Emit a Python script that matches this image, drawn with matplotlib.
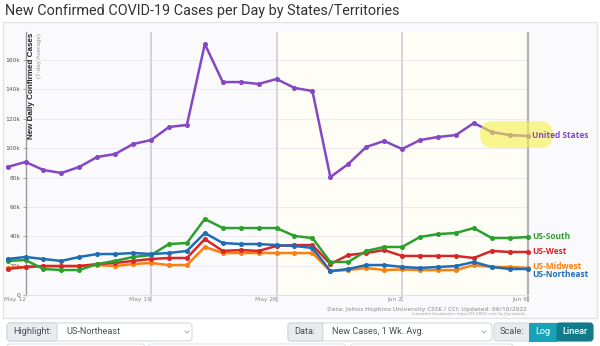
import matplotlib.pyplot as plt
import matplotlib.dates as mdates
from matplotlib.patches import FancyBboxPatch, Rectangle
import pandas as pd

dates = pd.date_range('2022-05-11', '2022-06-09', freq='D')

# new confirmed cases per day, 7-day average, in thousands
us = [87.2, 90.6, 85.1, 83.1, 87.2, 94.0, 96.0, 102.8, 105.5, 114.4,
      115.8, 170.9, 145.0, 145.0, 143.7, 147.1, 141.0, 138.9, 80.3, 89.2,
      100.8, 104.9, 99.4, 105.5, 107.6, 108.9, 117.1, 111.0, 108.9, 108.3]
south = [23.2, 23.8, 17.7, 17.0, 17.0, 21.1, 23.2, 25.9, 27.2, 34.7,
         35.4, 51.8, 45.6, 45.6, 45.6, 45.6, 40.2, 38.8, 22.5, 22.5,
         30.0, 32.7, 32.7, 39.5, 41.5, 42.2, 45.6, 38.8, 38.8, 39.5]
west = [17.7, 19.1, 19.7, 19.7, 19.7, 21.1, 21.8, 23.2, 24.5, 25.2,
        25.2, 38.1, 30.0, 30.6, 30.0, 33.4, 34.0, 34.0, 21.1, 27.2,
        28.6, 30.6, 26.6, 26.6, 26.6, 26.6, 25.2, 30.0, 29.3, 29.3]
midwest = [18.4, 19.1, 19.7, 19.7, 19.7, 20.4, 19.7, 21.1, 21.8, 20.4,
           20.4, 32.7, 28.6, 28.6, 28.6, 28.6, 28.6, 28.6, 16.3, 17.0,
           18.4, 17.0, 17.4, 17.0, 17.0, 17.0, 20.4, 19.1, 19.1, 18.4]
northeast = [24.5, 25.9, 24.5, 23.2, 25.9, 27.9, 27.9, 28.6, 27.9, 28.6,
             30.0, 42.2, 35.4, 34.7, 34.7, 34.0, 33.4, 32.0, 16.3, 17.7,
             20.4, 20.4, 19.1, 18.4, 19.1, 19.7, 22.5, 19.1, 17.7, 17.7]

week_ticks = pd.to_datetime(['2022-05-12', '2022-05-19', '2022-05-26',
                             '2022-06-02', '2022-06-09'])
week_labels = ['May 12', 'May 19', 'May 26', 'Jun 2', 'Jun 9']
y_ticks = [0, 20, 40, 60, 80, 100, 120, 140, 160]
y_labels = ['0'] + [f'{v}k' for v in y_ticks[1:]]

series = [
    ('US-Midwest', midwest, '#ff7f0e'),
    ('US-West', west, '#d62728'),
    ('US-South', south, '#2ca02c'),
    ('US-Northeast', northeast, '#1f6db5'),
    ('United States', us, '#8547c4'),
]

W, H = 600, 346
fig = plt.figure(figsize=(W / 100, H / 100), dpi=100)
fig.patch.set_facecolor('white')

# chart box: 3..597 px wide, 22..318 px from the top
ax = fig.add_axes([3 / W, (H - 318) / H, 594 / W, (318 - 22) / H])
ax.set_facecolor('#fafafd')

d0 = mdates.date2num(dates[0])
day_px = 17.93
ax.set_xlim(d0 + (3 - 7.6) / day_px, d0 + (597 - 7.6) / day_px)
ax.set_ylim(-15.66, 185.9)

may12 = week_ticks[0]
jun9 = week_ticks[-1]
ax.fill_between([week_ticks[2], jun9], 0, 179, color='#fefef7', zorder=0, lw=0)
ax.hlines(y_ticks[1:], may12, jun9, color='#ebebf1', lw=0.8, zorder=1)
ax.vlines(week_ticks[1:-1], -5, 179, color='#d2d2d6', lw=1.3, zorder=1)
ax.vlines(jun9, -5, 179, color='#b4b4b8', lw=1.6, zorder=1)

for name in ['top', 'right']:
    ax.spines[name].set_visible(False)
ax.spines['left'].set_position(('data', mdates.date2num(may12)))
ax.spines['left'].set_bounds(0, 179)
ax.spines['left'].set_color('#9a9a9a')
ax.spines['left'].set_linewidth(1.0)
ax.spines['bottom'].set_position(('data', 0))
ax.spines['bottom'].set_bounds(mdates.date2num(may12), mdates.date2num(jun9))
ax.spines['bottom'].set_color('#e4def0')
ax.spines['bottom'].set_linewidth(0.8)

ax.set_yticks(y_ticks, y_labels)
ax.tick_params(axis='y', length=2.5, width=0.6, color='#999999', pad=1,
               labelsize=4.3, labelcolor='#555555')
ax.set_xticks(week_ticks, week_labels)
ax.tick_params(axis='x', length=0, pad=1.2, labelsize=4.3, labelcolor='#8a8a8a')
for lab in ax.get_xticklabels():
    lab.set_ha('right')

for name, vals, color in series:
    ax.plot(dates, vals, color=color, lw=1.8, marker='o', ms=2.6,
            mec=color, mfc=color, zorder=3, solid_joinstyle='round')

# pixel-space overlay for the page title, frame and controls
ax_px = fig.add_axes([0, 0, 1, 1], zorder=5)
ax_px.set_xlim(0, W)
ax_px.set_ylim(H, 0)
ax_px.axis('off')
ax_px.patch.set_visible(False)

# yellow marker over the tail of the United States line
pill = FancyBboxPatch((480, 121), 73, 27, boxstyle='round,pad=0,rounding_size=13.5',
                      transform=ax_px.transData, facecolor='#f5f04a', alpha=0.6,
                      lw=0, zorder=4)
ax.add_patch(pill)

label_x = d0 + (532 - 7.6) / day_px
nudge = {'US-Midwest': 0.8, 'US-Northeast': -4.0}
for name, vals, color in series:
    ax.text(label_x, vals[-1] + nudge.get(name, 0), name, color=color,
            fontsize=6, fontweight='bold', family='Open Sans',
            ha='left', va='center', zorder=6)

# axis title
ax.text(d0 + (31.5 - 7.6) / day_px, 178.5, 'New Daily Confirmed Cases',
        rotation=90, ha='center', va='top', fontsize=5.8, fontweight='bold',
        family='Liberation Sans', color='#222222')
ax.text(d0 + (39 - 7.6) / day_px, 178.5, '(7-day Average)',
        rotation=90, ha='center', va='top', fontsize=4.6,
        family='Liberation Sans', color='#999999')

# source notes
ax_px.text(527, 309, 'Data: Johns Hopkins University CSSE / CCI; Updated: 06/10/2022',
           ha='right', va='center', fontsize=4.6, fontweight='bold',
           family='Open Sans', color='#b0b0b0')
ax_px.text(527, 314.5, 'Interactive Visualization: https://91-DIVOC.com/ by @profwade_',
           ha='right', va='center', fontsize=2.8, family='Open Sans', color='#9a9a9a')

# frame around the chart
ax_px.add_patch(Rectangle((3, 22), 594, 296, fill=False, ec='#e2e2e2', lw=0.9))

# page title
ax_px.text(5, 11.5, 'New Confirmed COVID-19 Cases per Day by States/Territories',
           ha='left', va='center', fontsize=10.4, family='Roboto', color='#333333')


# bottom controls
def box(x0, x1, fc, ec='#ced4da', r=3):
    ax_px.add_patch(FancyBboxPatch((x0, 323), x1 - x0, 18,
                                   boxstyle=f'round,pad=0,rounding_size={r}',
                                   fc=fc, ec=ec, lw=0.7))


def chevron(x):
    ax_px.plot([x - 2, x, x + 2], [331, 333, 331], color='#9aa0a6', lw=0.6)


ui_font = dict(family='Roboto', fontsize=6.6, va='center')
box(7, 192, 'white')
box(7, 57, '#e9ecef')
ax_px.text(13, 332, 'Highlight:', color='#495057', **ui_font)
ax_px.text(66, 332, 'US-Northeast', color='#495057', **ui_font)
chevron(187)

box(288, 492, 'white')
box(288, 323, '#e9ecef')
ax_px.text(294, 332, 'Data:', color='#495057', **ui_font)
ax_px.text(332, 332, 'New Cases, 1 Wk. Avg.', color='#495057', **ui_font)
chevron(484)

box(494, 593, '#e9ecef')
ax_px.add_patch(Rectangle((529, 323), 28, 18, fc='#17a2b8', ec='#17a2b8', lw=0.7))
box(557, 593, '#117a8b', ec='#117a8b')
ax_px.add_patch(Rectangle((557, 323), 5, 18, fc='#117a8b', ec='none'))
ax_px.text(500, 332, 'Scale:', color='#495057', **ui_font)
ax_px.text(543, 332, 'Log', color='white', ha='center', family='Roboto',
           fontsize=6.6, va='center')
ax_px.text(575, 332, 'Linear', color='white', ha='center', family='Roboto',
           fontsize=6.6, va='center', fontweight='medium')

# start of the next row of controls
for x0, x1 in [(7, 145), (148, 346), (350, 513)]:
    ax_px.add_patch(FancyBboxPatch((x0, 344), x1 - x0, 10,
                                   boxstyle='round,pad=0,rounding_size=3',
                                   fc='white', ec='#d6d9dc', lw=0.6))

fig.savefig('out.png', dpi=100)
